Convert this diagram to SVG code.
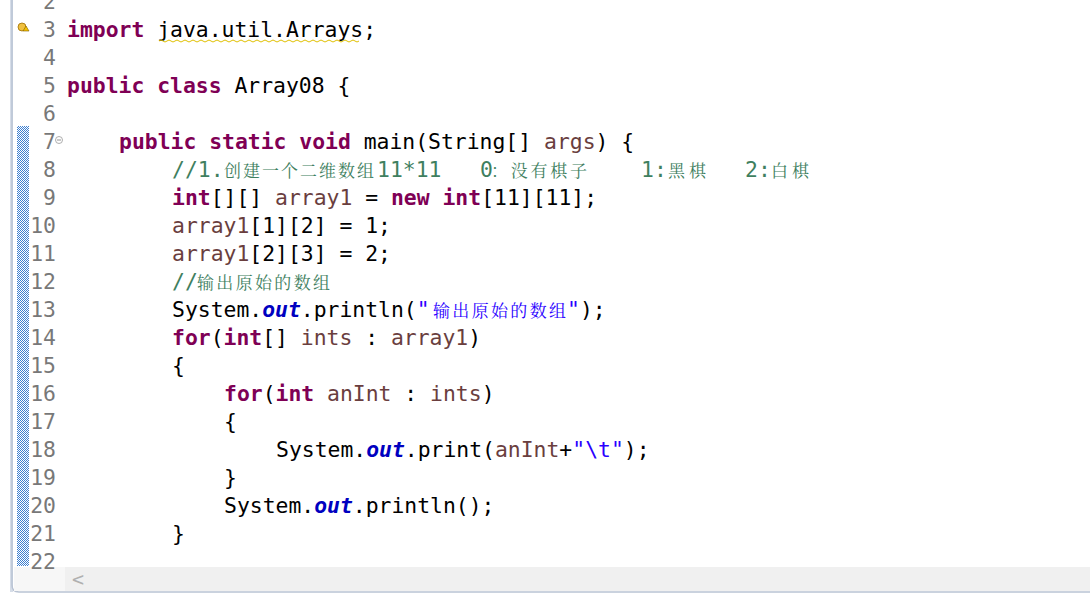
<svg xmlns="http://www.w3.org/2000/svg" width="1090" height="597" viewBox="0 0 1090 597">
<defs>
<pattern id="chk" width="2" height="2" patternUnits="userSpaceOnUse"><rect width="2" height="2" fill="#fff"/><rect width="1" height="1" fill="#3d7fd0"/><rect x="1" y="1" width="1" height="1" fill="#3d7fd0"/></pattern>
<style>
text{font-family:"DejaVu Sans Mono","Liberation Mono",monospace;font-size:21.4px;fill:#000;white-space:pre}
.ln{fill:#787878;text-anchor:end}
.k{fill:#7F0055;font-weight:bold}
.v{fill:#6A3E3E}
.c{fill:#3F7F5F}
.s{fill:#2A00FF}
.f{fill:#0000C0;font-weight:bold;font-style:italic}
.cj{font-family:"Noto Serif CJK SC","Noto Sans CJK SC",serif;font-size:17px}
</style>
</defs>
<rect width="1090" height="597" fill="#fff"/>
<rect x="10" y="0" width="3" height="592" fill="#d6dde8"/>
<path d="M12 0 V585 Q12 592 19 592 H1090" fill="none" stroke="#b9c3d3" stroke-width="1.5"/>
<rect x="17" y="126" width="12" height="440" fill="url(#chk)"/>
<rect x="65" y="567" width="1025" height="24" fill="#f0f0f0"/>
<rect x="14" y="567" width="51" height="24" fill="#f7f7f7"/>
<text x="72" y="586" style="fill:#b0b0b0;font-size:20px">&lt;</text>
<g id="warn"><circle cx="22" cy="27" r="4" fill="#f0c040" stroke="#a07000" stroke-width="0.8"/><path d="M23 31 l3 -5 l3 5 z" fill="#f5c000" stroke="#806000" stroke-width="0.6"/></g>
<g id="lines">
<text class="ln" x="56" y="9">2</text>
<text class="ln" x="56" y="37">3</text>
<text class="ln" x="56" y="65">4</text>
<text class="ln" x="56" y="93">5</text>
<text class="ln" x="56" y="121">6</text>
<text class="ln" x="56" y="149">7</text>
<circle cx="59" cy="140" r="3.5" fill="#fff" stroke="#999" stroke-width="0.8"/><line x1="57" y1="140" x2="61" y2="140" stroke="#777" stroke-width="0.8"/>
<text class="ln" x="56" y="177">8</text>
<text class="ln" x="56" y="205">9</text>
<text class="ln" x="56" y="233">10</text>
<text class="ln" x="56" y="261">11</text>
<text class="ln" x="56" y="289">12</text>
<text class="ln" x="56" y="317">13</text>
<text class="ln" x="56" y="345">14</text>
<text class="ln" x="56" y="373">15</text>
<text class="ln" x="56" y="401">16</text>
<text class="ln" x="56" y="429">17</text>
<text class="ln" x="56" y="457">18</text>
<text class="ln" x="56" y="485">19</text>
<text class="ln" x="56" y="513">20</text>
<text class="ln" x="56" y="541">21</text>
<text class="ln" x="56" y="569">22</text>
</g>
<g id="code">
<text x="67" y="37"><tspan class="k">import</tspan> java.util.Arrays;</text>
<path d="M159 41 q2 -2 4 0 t4 0 t4 0 t4 0 t4 0 t4 0 t4 0 t4 0 t4 0 t4 0 t4 0 t4 0 t4 0 t4 0 t4 0 t4 0 t4 0 t4 0 t4 0 t4 0 t4 0 t4 0 t4 0 t4 0 t4 0 t4 0 t4 0 t4 0 t4 0 t4 0 t4 0 t4 0 t4 0 t4 0 t4 0 t4 0 t4 0 t4 0 t4 0 t4 0 t4 0 t4 0 t4 0 t4 0 t4 0 t4 0 t4 0 t4 0 t4 0 t4 0" fill="none" stroke="#e0c000" stroke-width="1"/>
<text x="67" y="93"><tspan class="k">public class</tspan> Array08 {</text>
<text x="119" y="149"><tspan class="k">public static void</tspan> main(String[] <tspan class="v">args</tspan>) {</text>
<text y="177" class="c"><tspan x="172">//1.</tspan><tspan x="224" class="cj c" textLength="150">创建一个二维数组</tspan><tspan x="377">11*11</tspan><tspan x="480">0</tspan><tspan x="491" class="cj c" textLength="96">：没有棋子</tspan><tspan x="641">1:</tspan><tspan x="668" class="cj c" textLength="38">黑棋</tspan><tspan x="745">2:</tspan><tspan x="771" class="cj c" textLength="38">白棋</tspan></text>
<text x="172" y="205"><tspan class="k">int</tspan>[][] <tspan class="v">array1</tspan> = <tspan class="k">new int</tspan>[11][11];</text>
<text x="172" y="233"><tspan class="v">array1</tspan>[1][2] = 1;</text>
<text x="172" y="261"><tspan class="v">array1</tspan>[2][3] = 2;</text>
<text y="289" class="c"><tspan x="172">//</tspan><tspan x="197" class="cj c" textLength="133">输出原始的数组</tspan></text>
<text y="317"><tspan x="172">System.</tspan><tspan class="f">out</tspan>.println(<tspan class="s">"</tspan><tspan x="433" class="cj s" textLength="133">输出原始的数组</tspan><tspan x="567" class="s">"</tspan>);</text>
<text x="172" y="345"><tspan class="k">for</tspan>(<tspan class="k">int</tspan>[] <tspan class="v">ints</tspan> : <tspan class="v">array1</tspan>)</text>
<text x="172" y="373">{</text>
<text x="224" y="401"><tspan class="k">for</tspan>(<tspan class="k">int</tspan> <tspan class="v">anInt</tspan> : <tspan class="v">ints</tspan>)</text>
<text x="224" y="429">{</text>
<text x="276" y="457">System.<tspan class="f">out</tspan>.print(<tspan class="v">anInt</tspan>+<tspan class="s">"\t"</tspan>);</text>
<text x="224" y="485">}</text>
<text x="224" y="513">System.<tspan class="f">out</tspan>.println();</text>
<text x="172" y="541">}</text>
</g>
</svg>
